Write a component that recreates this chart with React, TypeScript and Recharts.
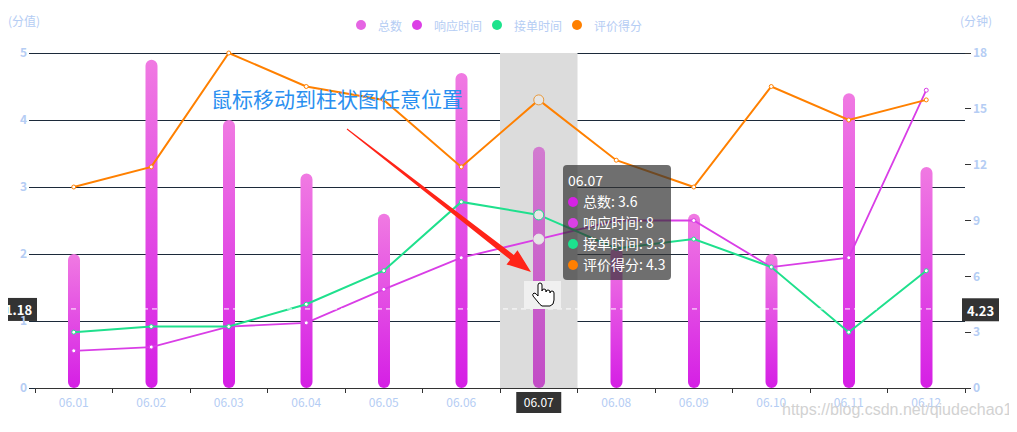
import React from 'react';
import {
  ComposedChart,
  Bar,
  Line,
  XAxis,
  YAxis,
  CartesianGrid,
  Tooltip,
  ReferenceLine,
  ReferenceArea,
} from 'recharts';

const dates = ['06.01', '06.02', '06.03', '06.04', '06.05', '06.06', '06.07', '06.08', '06.09', '06.10', '06.11', '06.12'];
const totalCount = [2.0, 4.9, 4.0, 3.2, 2.6, 4.7, 3.6, 2.1, 2.6, 2.0, 4.4, 3.3];
const responseTime = [2, 2.2, 3.3, 3.5, 5.3, 7, 8, 9, 9, 6.5, 7, 16];
const acceptTime = [3, 3.3, 3.3, 4.5, 6.3, 10, 9.3, 7.5, 8, 6.5, 3, 6.3];
const ratingScore = [3.0, 3.3, 5.0, 4.5, 4.3, 3.3, 4.3, 3.4, 3.0, 4.5, 4.0, 4.3];

const leftTicks = [0, 1, 2, 3, 4, 5];
const rightTicks = [0, 3, 6, 9, 12, 15, 18];

// hovered position shown in the screenshot
const activeIndex = 6;
const pointerLeft = 1.18;
const pointerRight = 4.23;

const legendItems = [
  { key: 'total', name: '总数', color: '#e565e3' },
  { key: 'response', name: '响应时间', color: '#dc3fe6' },
  { key: 'accept', name: '接单时间', color: '#1de38c' },
  { key: 'score', name: '评价得分', color: '#ff8000' },
];

const tipColors: Record<string, string> = {
  total: '#d622e4',
  response: '#db40e6',
  accept: '#1de28e',
  score: '#ff7f00',
};

const data = dates.map((date, i) => ({
  date,
  total: totalCount[i],
  response: responseTime[i],
  accept: acceptTime[i],
  score: ratingScore[i],
}));

const FONT = "'Microsoft YaHei', 'Noto Sans CJK SC', sans-serif";
const LABEL = '#b5cdf4';
const GRID = '#1c2a3a';

function XTick(props: any) {
  const { x, y, payload, index } = props;
  const half = payload.offset || 0;
  const axisY = y - 10;
  const isActive = payload.value === dates[activeIndex];
  return (
    <g>
      <line x1={x - half} x2={x - half} y1={axisY} y2={axisY + 5} stroke="#333" shapeRendering="crispEdges" />
      {index === dates.length - 1 && (
        <line x1={x + half} x2={x + half} y1={axisY} y2={axisY + 5} stroke="#333" shapeRendering="crispEdges" />
      )}
      {isActive && <rect x={x - 22.5} y={axisY + 4} width={45} height={21} fill="#333" />}
      <text
        x={x}
        y={y}
        dy="0.71em"
        textAnchor="middle"
        fontSize={12}
        fontFamily={FONT}
        fill={isActive ? '#fff' : LABEL}
      >
        {payload.value}
      </text>
    </g>
  );
}

function PointerLabel(props: any) {
  const { viewBox, value, side } = props;
  const { x, y, width } = viewBox;
  const bx = side === 'left' ? x - 35 : x + width - 3;
  return (
    <g>
      <rect x={bx} y={y - 11} width={37} height={23} fill="#333" />
      <text
        x={bx + 18.5}
        y={y + 1}
        textAnchor="middle"
        dominantBaseline="central"
        fill="#fff"
        fontSize={13}
        fontWeight="bold"
        fontFamily={FONT}
      >
        {value}
      </text>
    </g>
  );
}

function TipContent(props: any) {
  const { active, payload, label } = props;
  if (!active || !payload || !payload.length) return null;
  return (
    <div
      style={{
        background: 'rgba(50,50,50,0.7)',
        borderRadius: 4,
        padding: 5,
        width: 98,
        color: '#fff',
        fontSize: 14,
        lineHeight: '21px',
        fontFamily: FONT,
        whiteSpace: 'nowrap',
      }}
    >
      <div>{label}</div>
      {payload.map((p: any) => (
        <div key={p.dataKey} style={{ display: 'flex', alignItems: 'center' }}>
          <span
            style={{
              display: 'inline-block',
              width: 10,
              height: 10,
              borderRadius: '50%',
              background: tipColors[p.dataKey],
              marginRight: 5,
            }}
          />
          {p.name}: {p.value}
        </div>
      ))}
    </div>
  );
}

export default function App() {
  return (
    <div style={{ position: 'relative', width: 1017, height: 432, margin: -8, background: '#fff', fontFamily: FONT, overflow: 'hidden' }}>
      <style>{`
        .recharts-cartesian-grid line, .recharts-cartesian-axis-line, .recharts-cartesian-axis-tick-line {
          shape-rendering: crispEdges;
        }
      `}</style>
      <div style={{ position: 'absolute', left: 0, top: 6, width: 1017, height: 1, background: '#c0c0c0' }} />
      <div style={{ position: 'absolute', left: 8, top: 13, fontSize: 12, color: LABEL, lineHeight: '16px' }}>(分值)</div>
      <div style={{ position: 'absolute', left: 960, top: 13, fontSize: 12, color: LABEL, lineHeight: '16px' }}>(分钟)</div>

      <div style={{ position: 'absolute', left: 356, top: 17, display: 'flex', alignItems: 'center', height: 16 }}>
        {legendItems.map((item) => (
          <div key={item.key} style={{ display: 'flex', alignItems: 'center', marginRight: 10 }}>
            <span style={{ width: 10, height: 10, borderRadius: '50%', background: item.color, marginRight: 12 }} />
            <span style={{ fontSize: 12, color: LABEL }}>{item.name}</span>
          </div>
        ))}
      </div>

      <ComposedChart width={1017} height={432} data={data} margin={{ top: 53, right: 5, bottom: 0, left: 5 }}>
        <defs>
          <linearGradient id="barGrad" x1="0" y1="0" x2="0" y2="1">
            <stop offset="0%" stopColor="#f07ae2" />
            <stop offset="100%" stopColor="#d51fe5" />
          </linearGradient>
          <linearGradient id="barGradActive" x1="0" y1="0" x2="0" y2="1">
            <stop offset="0%" stopColor="#d27bd0" />
            <stop offset="100%" stopColor="#c24cc6" />
          </linearGradient>
        </defs>
        <ReferenceArea
          yAxisId="left"
          x1={dates[activeIndex]}
          x2={dates[activeIndex]}
          y1={0}
          y2={5}
          fill="#dcdcdc"
          fillOpacity={1}
          stroke="none"
        />
        <CartesianGrid yAxisId="left" vertical={false} stroke={GRID} />
        <XAxis
          dataKey="date"
          height={44}
          axisLine={{ stroke: '#333' }}
          tickLine={false}
          tickSize={0}
          tickMargin={10}
          interval={0}
          tick={<XTick />}
        />
        <YAxis
          yAxisId="left"
          orientation="left"
          width={30}
          domain={[0, 5]}
          ticks={leftTicks}
          axisLine={false}
          tickLine={{ stroke: GRID }}
          tick={{ fill: LABEL, fontSize: 12, fontWeight: 'bold', fontFamily: FONT }}
        />
        <YAxis
          yAxisId="right"
          orientation="right"
          width={47}
          domain={[0, 18]}
          ticks={rightTicks}
          axisLine={false}
          tickLine={{ stroke: '#333' }}
          tick={{ fill: LABEL, fontSize: 12, fontWeight: 'bold', fontFamily: FONT }}
        />
        <Tooltip
          defaultIndex={activeIndex}
          position={{ x: 563, y: 165 }}
          cursor={false}
          content={<TipContent />}
          isAnimationActive={false}
        />
        <Bar
          yAxisId="left"
          dataKey="total"
          name="总数"
          barSize={12}
          radius={6}
          fill="url(#barGrad)"
          activeBar={{ fill: 'url(#barGradActive)' }}
          isAnimationActive={false}
        />
        <Line
          yAxisId="right"
          type="linear"
          dataKey="response"
          name="响应时间"
          stroke="#d93ee6"
          strokeWidth={1.8}
          dot={{ r: 2, fill: '#fff', stroke: '#d93ee6', strokeWidth: 1 }}
          activeDot={{ r: 5, fill: '#e6e6e6', stroke: '#e6e6e6', strokeWidth: 1 }}
          isAnimationActive={false}
        />
        <Line
          yAxisId="right"
          type="linear"
          dataKey="accept"
          name="接单时间"
          stroke="#1fe08d"
          strokeWidth={2}
          dot={{ r: 2, fill: '#fff', stroke: '#1fe08d', strokeWidth: 1 }}
          activeDot={{ r: 5, fill: '#e6e6e6', stroke: '#1fe08d', strokeWidth: 1 }}
          isAnimationActive={false}
        />
        <Line
          yAxisId="left"
          type="linear"
          dataKey="score"
          name="评价得分"
          stroke="#ff8000"
          strokeWidth={2}
          dot={{ r: 2, fill: '#fff', stroke: '#ff8000', strokeWidth: 1 }}
          activeDot={{ r: 5, fill: '#e6e6e6', stroke: '#e8983a', strokeWidth: 1 }}
          isAnimationActive={false}
        />
        <ReferenceLine
          yAxisId="left"
          y={pointerLeft}
          stroke="#fff"
          strokeDasharray="5 4"
          label={<PointerLabel side="left" value={pointerLeft.toFixed(2)} />}
        />
        <ReferenceLine
          yAxisId="right"
          y={pointerRight}
          stroke="none"
          label={<PointerLabel side="right" value={pointerRight.toFixed(2)} />}
        />
      </ComposedChart>

      <div style={{ position: 'absolute', left: 211, top: 86, fontSize: 21, lineHeight: '24px', color: '#2a8ff0', whiteSpace: 'nowrap' }}>
        鼠标移动到柱状图任意位置
      </div>

      <svg width={1017} height={432} style={{ position: 'absolute', left: 0, top: 0, pointerEvents: 'none' }}>
        <polygon
          points="347.3,128.6 513.8,254.9 517.5,250.2 531,272 506.5,264.4 510.2,259.7 346.7,129.4"
          fill="#ff2418"
        />
        <rect x={524} y={281} width={37} height={28} fill="#f0f0f0" />
        <path
          d="M538,296 L538,285 Q538,283 540,283 Q542,283 542,285 L542,291 Q542,289 544,289 Q546,289 546,291 L546,292 Q546,290 548,290 Q550,290 550,292 L550,293 Q550,291 552,291 Q554,291 554,293 L554,300 Q554,305 550,306 L542,306 Q540,305 538,302 L533,296 Q532,294 534,293 Q536,293 538,296 Z"
          fill="#fff"
          stroke="#000"
          strokeWidth={1}
        />
      </svg>

      <div style={{ position: 'absolute', left: 782, top: 401, fontSize: 16, color: '#d2d2d2', fontFamily: "'Liberation Sans', Arial, sans-serif", whiteSpace: 'nowrap' }}>
        https://blog.csdn.net/qiudechao1
      </div>
    </div>
  );
}
